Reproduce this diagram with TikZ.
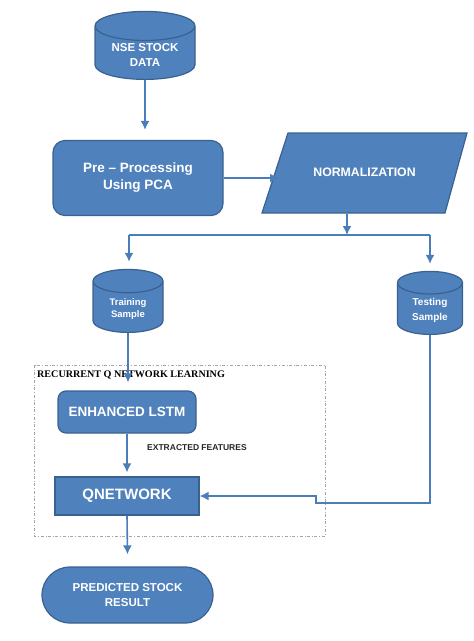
\documentclass[tikz,border=0pt]{standalone}
\usepackage{fontspec}
\setmainfont{Liberation Sans}
\newfontfamily\timesfont{Liberation Serif}
\usetikzlibrary{arrows.meta,shapes.geometric}
\definecolor{boxblue}{HTML}{4F81BD}
\definecolor{edgeblue}{HTML}{3A6190}
\definecolor{linkblue}{HTML}{4A7EBB}

\begin{document}
\begin{tikzpicture}[%
    x=1pt, y=-1pt,
    basenode/.style={
        draw=edgeblue,
        fill=boxblue,
        line width=1.2pt,
        text=white,
        font=\bfseries,
        align=center,
        anchor=center,
        inner sep=2pt,
        },
    datanode/.style={
        basenode,
        cylinder,
        shape border rotate=90,
        shape aspect=0.57,
        anchor=south,
        },
    stepnode/.style={
        basenode,
        rectangle,
        rounded corners=10pt,
        },
    lernnode/.style={
        basenode,
        rectangle,
        },
    link/.style={
        draw=linkblue,
        line width=1.6pt,
        -{Latex[length=9pt,width=9pt]},
        },
]

\useasboundingbox (0,0) rectangle (474,641);

\node[datanode, minimum width=100, minimum height=68, shape aspect=0.41,
      font=\bfseries\fontsize{11.5}{15}\selectfont]
    (nse) at (145,80) {NSE STOCK\\DATA};
\node[stepnode, minimum width=170, minimum height=75, rounded corners=12pt,
      font=\bfseries\fontsize{13.5}{17}\selectfont]
    (pca) at (138,178) {Pre -- Processing\\Using PCA};

\draw[draw=edgeblue, fill=boxblue, line width=1.2pt]
    (262,213) -- (288,133) -- (467,133) -- (445,213) -- cycle;
\node[text=white, font=\bfseries\fontsize{12.3}{14}\selectfont]
    (norm) at (364.5,172) {NORMALIZATION};

\node[datanode, minimum width=70, minimum height=63, font=\bfseries\fontsize{9.5}{12}\selectfont]
    (train) at (128,333) {Training\\Sample};
\node[datanode, minimum width=65, minimum height=63, font=\bfseries\fontsize{10}{15}\selectfont]
    (test) at (430,335) {Testing\\Sample};
\node[stepnode, minimum width=138, minimum height=42, rounded corners=8pt,
      font=\bfseries\fontsize{13.5}{16}\selectfont]
    (lstm) at (127,412) {ENHANCED LSTM};
\node[lernnode, minimum width=144, minimum height=38, font=\bfseries\fontsize{15}{18}\selectfont]
    (qnet) at (127,496) {QNETWORK};
\node[stepnode, minimum width=171, minimum height=56, rounded corners=28pt,
      font=\bfseries\fontsize{11.5}{15}\selectfont]
    (result) at (127.5,595) {PREDICTED STOCK\\RESULT};

\draw[gray!70, dash dot, line width=0.6pt] (34,365) rectangle (325,536);
\node[anchor=west, inner sep=0, font=\timesfont\bfseries\fontsize{10.1}{12}\selectfont]
    (rqlabel) at (37,375) {RECURRENT Q NETWORK LEARNING};
\node[anchor=west, inner sep=0, font=\bfseries\fontsize{8.5}{10}\selectfont, text=black!85]
    (feat) at (147,448) {EXTRACTED FEATURES};

\coordinate (normin) at (279,177);
\coordinate (normout) at (347,214);
\coordinate (split) at (347,235);
\coordinate (splitl) at (129,235);
\coordinate (splitr) at (test.north |- split);
\coordinate (stepr) at (test.south |- 0,503);
\coordinate (stepl) at (316,503);
\coordinate (stepu) at (316,496);

\draw[link] (nse.south) -- ([yshift=10pt]pca.north -| nse.south);
\draw[link] (pca.east) -- (pca.east -| normin);
\draw[link] (normout) -- (split);
\draw[draw=linkblue, line width=1.6pt] (splitl) -- (splitr);
\draw[link] (splitl) -- ([yshift=7pt]train.north -| splitl);
\draw[link] (splitr) -- ([yshift=7pt]test.north -| splitr);
\draw[link] (train.south) -- ([yshift=8pt]lstm.north -| train.south);
\draw[link] (lstm.south) -- ([yshift=4pt]qnet.north);
\draw[link] (test.south) -- (stepr) -- (stepl) -- (stepu) -- (qnet.east);
\draw[link] (qnet.south) -- ([yshift=12pt]result.north);

\end{tikzpicture}
\end{document}
